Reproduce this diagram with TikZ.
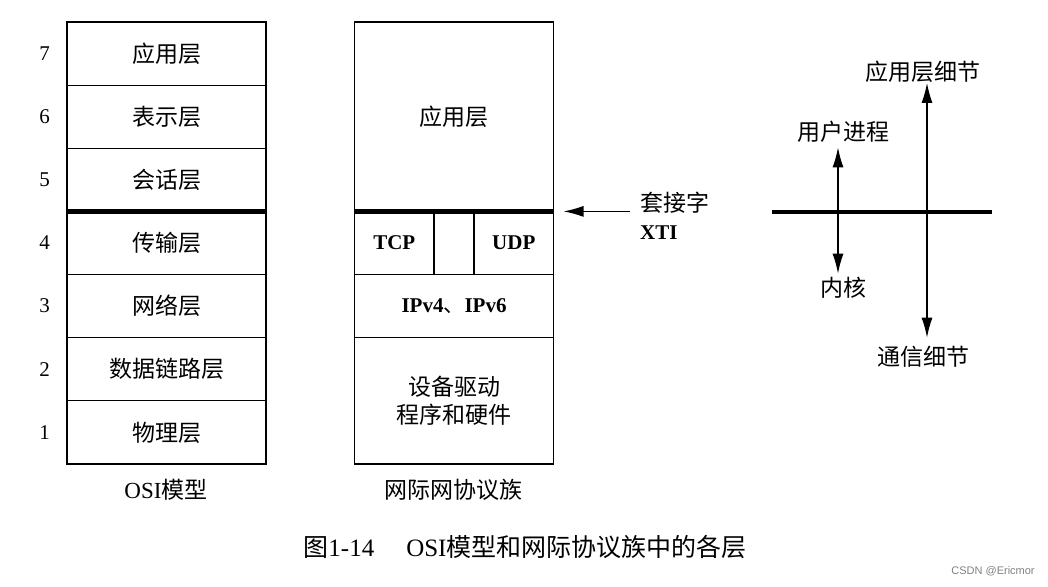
\documentclass[tikz,border=0pt]{standalone}
\usepackage{fontspec}
\setmainfont{Liberation Serif}
\setsansfont{Liberation Sans}
\newfontfamily\cjk{Noto Sans CJK SC}
\usetikzlibrary{arrows.meta,positioning}

\begin{document}
\begin{tikzpicture}[
  x=1pt, y=-1pt,
  >={Latex[length=20pt,width=11pt]},
  layer/.style={draw, line width=1.1pt, outer sep=0pt, inner sep=0pt, minimum width=199pt, minimum height=63.14pt, font=\fontsize{23}{28}\selectfont\cjk},
  latin/.style={font=\fontsize{21}{28}\selectfont\bfseries},
  num/.style={inner sep=0pt, font=\fontsize{21}{24}\selectfont},
  label/.style={inner sep=0pt, font=\fontsize{23}{28}\selectfont\cjk},
  bar/.style={line width=4.5pt},
  arrow/.style={->, line width=1.3pt},
  twoway/.style={<->, line width=1.3pt}
]
\useasboundingbox (0,0) rectangle (1048,586);
% OSI model
\node[layer] (osi7) at (166.5,53.57) {应用层};
\node[layer, below=0pt of osi7] (osi6) {表示层};
\node[layer, below=0pt of osi6] (osi5) {会话层};
\node[layer, below=0pt of osi5] (osi4) {传输层};
\node[layer, below=0pt of osi4] (osi3) {网络层};
\node[layer, below=0pt of osi3] (osi2) {数据链路层};
\node[layer, below=0pt of osi2] (osi1) {物理层};
\node[num, left=17pt of osi7] {7};
\node[num, left=17pt of osi6] {6};
\node[num, left=17pt of osi5] {5};
\node[num, left=17pt of osi4] {4};
\node[num, left=17pt of osi3] {3};
\node[num, left=17pt of osi2] {2};
\node[num, left=17pt of osi1] {1};
\draw[bar] (osi5.south west) -- (osi5.south east);
\node[label] (osicap) at (166,490) {{\rmfamily OSI}模型};
% internet protocol suite
\node[layer, minimum height=189.4pt] (inapp) at (454,116.7) {应用层};
\node[layer, latin, minimum width=79.5pt, anchor=north west] (tcp) at (inapp.south west) {TCP};
\node[layer, minimum width=40pt, right=0pt of tcp] (gap) {};
\node[layer, latin, minimum width=79.5pt, right=0pt of gap] (udp) {UDP};
\node[layer, latin, anchor=north west] (ip) at (tcp.south west) {IPv4{\cjk\mdseries 、}IPv6};
\node[layer, align=center, minimum height=126.3pt, anchor=north west] (dev) at (ip.south west) {设备驱动\\程序和硬件};
\draw[bar] (inapp.south west) -- (inapp.south east);
\node[label] (inetcap) at (453,490) {网际网协议族};
% socket
\node[label, align=left, anchor=west] (sock) at (640,216) {套接字\\{\fontsize{21}{28}\selectfont\rmfamily\bfseries XTI}};
\draw[arrow] ([xshift=-10pt]sock.west |- inapp.south east) -- ([xshift=10pt]inapp.south east);
% user / kernel
\coordinate (kl) at (772,212);
\coordinate (kr) at (992,212);
\draw[bar] (kl) -- (kr);
\node[label] (user) at (843,132) {用户进程};
\node[label] (kernel) at (843,288) {内核};
\node[label] (appd) at (923,72) {应用层细节};
\node[label] (comm) at (923,357) {通信细节};
\draw[twoway, shorten <=4.5pt, shorten >=3.5pt] ([xshift=-5pt]user.south) -- ([xshift=-5pt]kernel.north);
\draw[twoway, shorten <=0pt, shorten >=8.5pt] ([xshift=4pt]appd.south) -- ([xshift=4pt]comm.north);
% caption
\node[label, font=\fontsize{25}{30}\selectfont\cjk] (figcap) at (525,547) {图{\rmfamily 1-14}\hspace{32pt}{\rmfamily OSI}模型和网际协议族中的各层};
\node[inner sep=0pt, font=\fontsize{11}{13}\selectfont\sffamily, text=gray] (mark) at (993,571) {CSDN @Ericmor};
\end{tikzpicture}
\end{document}
